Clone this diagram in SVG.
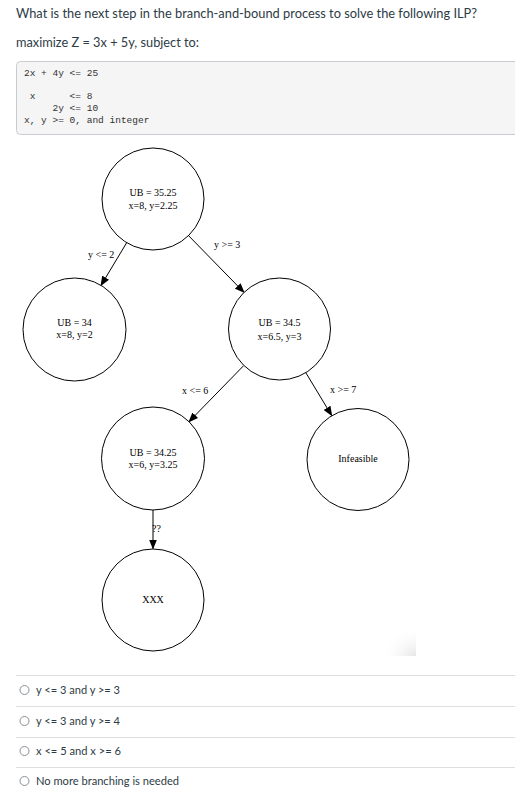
<svg xmlns="http://www.w3.org/2000/svg" width="515" height="801" viewBox="0 0 515 801">
<style>
.q{font-family:Lato,"Liberation Sans",sans-serif;fill:#2d3b45}
.code{font-family:"Liberation Mono","DejaVu Sans Mono",monospace;font-size:9.5px;fill:#333;white-space:pre}
.node circle{fill:#fff;stroke:#000;stroke-width:1}
.node text,.lbl{font-family:"Liberation Serif","Times New Roman",serif;font-size:10px;fill:#000;text-anchor:middle}
.lbl{text-anchor:start}
.edge{stroke:#000;stroke-width:1;fill:none;marker-end:url(#ah)}
.sep{stroke:#dcdfe2;stroke-width:1}
.radio{fill:#fff;stroke:#8a8f94;stroke-width:1}
.opt{font-family:Lato,"Liberation Sans",sans-serif;font-size:11.5px;fill:#2d3b45}
</style>
<defs>
<marker id="ah" markerWidth="10" markerHeight="8" refX="9" refY="4" orient="auto" markerUnits="userSpaceOnUse">
<path d="M0,0 L10,4 L0,8 z" fill="#000"/>
</marker>
<radialGradient id="shade" cx="1" cy="1" r="1">
<stop offset="0" stop-color="#e6e6e6"/>
<stop offset="1" stop-color="#fff" stop-opacity="0"/>
</radialGradient>
</defs>
<rect width="515" height="801" fill="#fff"/>
<text class="q" x="16" y="18" font-size="13" textLength="461" lengthAdjust="spacingAndGlyphs">What is the next step in the branch-and-bound process to solve the following ILP?</text>
<text class="q" x="16" y="47" font-size="13" textLength="183" lengthAdjust="spacingAndGlyphs">maximize Z = 3x + 5y, subject to:</text>
<rect x="16.5" y="61.5" width="510" height="73" rx="4" fill="#f5f5f5" stroke="#c8ccd0"/>
<text class="code" x="24" y="76">2x + 4y &lt;= 25</text>
<text class="code" x="24" y="99"> x      &lt;= 8</text>
<text class="code" x="24" y="111">     2y &lt;= 10</text>
<text class="code" x="24" y="123">x, y &gt;= 0, and integer</text>
<rect x="380" y="626" width="36" height="30" fill="url(#shade)"/>
<g id="connectors">
<line class="edge" x1="126.7" y1="242.7" x2="101" y2="285.4"/>
<line class="edge" x1="188.5" y1="235.6" x2="244" y2="292.4"/>
<line class="edge" x1="243.8" y1="365.5" x2="189" y2="421.7"/>
<line class="edge" x1="305.8" y1="372.7" x2="331.7" y2="415.5"/>
<line class="edge" x1="153" y1="510" x2="153" y2="548.5"/>
<text class="lbl" x="88" y="258">y &lt;= 2</text>
<text class="lbl" x="214" y="248">y &gt;= 3</text>
<text class="lbl" x="182" y="394">x &lt;= 6</text>
<text class="lbl" x="330" y="393">x &gt;= 7</text>
<text class="lbl" x="152" y="532">??</text>
</g>
<g id="n_root" class="node"><circle cx="153" cy="199" r="51"/><text x="153" y="196">UB = 35.25</text><text x="153" y="209">x=8, y=2.25</text></g>
<g id="n_left" class="node"><circle cx="74.5" cy="329.5" r="51.5"/><text x="74.5" y="326">UB = 34</text><text x="74.5" y="338">x=8, y=2</text></g>
<g id="n_right" class="node"><circle cx="279.5" cy="329" r="51"/><text x="279.5" y="326">UB = 34.5</text><text x="279.5" y="340">x=6.5, y=3</text></g>
<g id="n_mid" class="node"><circle cx="153" cy="458.5" r="51.5"/><text x="153" y="456">UB = 34.25</text><text x="153" y="468">x=6, y=3.25</text></g>
<g id="n_inf" class="node"><circle cx="358" cy="459.5" r="51"/><text x="358" y="462">Infeasible</text></g>
<g id="n_xxx" class="node"><circle cx="153" cy="600" r="51"/><text x="153" y="603">XXX</text></g>
<line class="sep" x1="16" y1="675.5" x2="515" y2="675.5"/>
<line class="sep" x1="16" y1="706.5" x2="515" y2="706.5"/>
<line class="sep" x1="16" y1="737.5" x2="515" y2="737.5"/>
<line class="sep" x1="16" y1="767.5" x2="515" y2="767.5"/>
<circle class="radio" cx="24.5" cy="690" r="4.5"/>
<circle class="radio" cx="24.5" cy="721" r="4.5"/>
<circle class="radio" cx="24.5" cy="751" r="4.5"/>
<circle class="radio" cx="24.5" cy="781" r="4.5"/>
<text class="opt" x="36" y="694" textLength="84" lengthAdjust="spacingAndGlyphs">y &lt;= 3 and y &gt;= 3</text>
<text class="opt" x="36" y="725" textLength="84" lengthAdjust="spacingAndGlyphs">y &lt;= 3 and y &gt;= 4</text>
<text class="opt" x="36" y="755" textLength="85" lengthAdjust="spacingAndGlyphs">x &lt;= 5 and x &gt;= 6</text>
<text class="opt" x="36" y="785" textLength="143" lengthAdjust="spacingAndGlyphs">No more branching is needed</text>
</svg>
